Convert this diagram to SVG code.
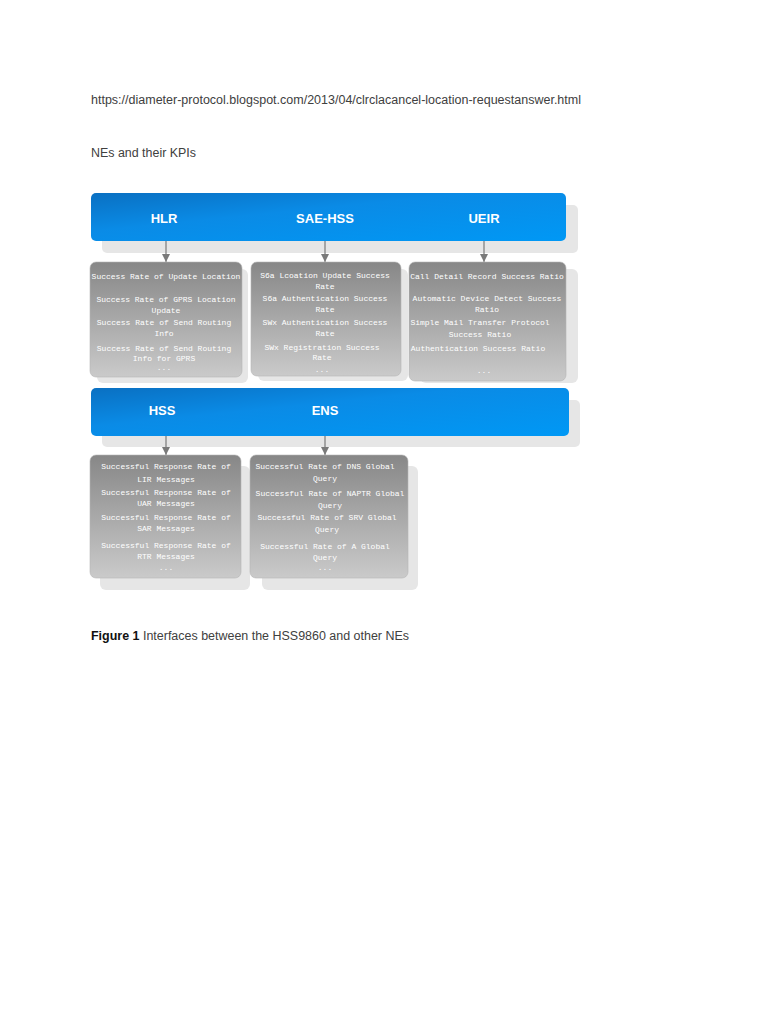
<svg xmlns="http://www.w3.org/2000/svg" width="768" height="1024" viewBox="0 0 768 1024">
<defs>
<linearGradient id="blue" x1="0" y1="0" x2="1" y2="1">
<stop offset="0" stop-color="#0a70c2"/>
<stop offset="0.4" stop-color="#0a8be6"/>
<stop offset="1" stop-color="#0098f5"/>
</linearGradient>
<linearGradient id="gray" x1="0" y1="0" x2="0" y2="1">
<stop offset="0" stop-color="#878787"/>
<stop offset="1" stop-color="#cacaca"/>
</linearGradient>
<marker id="arr" markerWidth="8" markerHeight="8" refX="8" refY="4" orient="auto" markerUnits="userSpaceOnUse" viewBox="0 0 8 8">
<path d="M0,0 L8,4 L0,8 Z" fill="#7a7a7a"/>
</marker>
<style>
.page{font-family:"Liberation Sans",Arial,sans-serif;font-size:12px;fill:#404040}
.hdr{font-family:"Liberation Sans",Arial,sans-serif;font-size:13px;font-weight:bold;fill:#fff;text-anchor:middle}
.kpi{font-family:"Liberation Mono","DejaVu Sans Mono",monospace;font-size:8px;fill:#fff;text-anchor:middle}
.shadow{fill:#e6e6e6}
.bar{fill:url(#blue)}
.box{fill:url(#gray);stroke:#b5b5b5;stroke-width:0.6}
.conn{stroke:#7a7a7a;stroke-width:1.2;fill:none}
</style>
</defs>
<rect width="768" height="1024" fill="#fff"/>
<text class="page" x="91" y="104" textLength="490" lengthAdjust="spacingAndGlyphs">https://diameter-protocol.blogspot.com/2013/04/clrclacancel-location-requestanswer.html</text>
<text class="page" x="91" y="157" textLength="105" lengthAdjust="spacingAndGlyphs">NEs and their KPIs</text>
<text class="page" x="91" y="640" textLength="318" lengthAdjust="spacingAndGlyphs"><tspan font-weight="bold" fill="#111">Figure 1</tspan> Interfaces between the HSS9860 and other NEs</text>

<g id="bar1">
<rect class="shadow" x="102" y="205" width="476" height="48" rx="5"/>
<rect class="bar" x="91" y="193" width="475" height="48" rx="5"/>
<text class="hdr" x="164" y="223">HLR</text>
<text class="hdr" x="325" y="223">SAE-HSS</text>
<text class="hdr" x="484" y="223">UEIR</text>
</g>

<g id="bar2">
<rect class="shadow" x="102" y="400" width="478" height="47" rx="5"/>
<rect class="bar" x="91" y="388" width="478" height="48" rx="5"/>
<text class="hdr" x="162" y="415">HSS</text>
<text class="hdr" x="325" y="415">ENS</text>
</g>

<g id="connectors">
<line class="conn" x1="166" y1="241" x2="166" y2="262" marker-end="url(#arr)"/>
<line class="conn" x1="325" y1="241" x2="325" y2="262" marker-end="url(#arr)"/>
<line class="conn" x1="484" y1="241" x2="484" y2="262" marker-end="url(#arr)"/>
<line class="conn" x1="166" y1="436" x2="166" y2="455" marker-end="url(#arr)"/>
<line class="conn" x1="325" y1="436" x2="325" y2="455" marker-end="url(#arr)"/>
</g>

<g id="hlr-kpi">
<rect class="shadow" x="97" y="269" width="151" height="114" rx="6"/>
<rect class="box" x="90" y="262" width="152" height="115" rx="6"/>
<text class="kpi" x="166" y="279">Success Rate of Update Location</text>
<text class="kpi" x="166" y="302">Success Rate of GPRS Location</text>
<text class="kpi" x="166" y="313">Update</text>
<text class="kpi" x="164" y="325">Success Rate of Send Routing</text>
<text class="kpi" x="164" y="336">Info</text>
<text class="kpi" x="164" y="351">Success Rate of Send Routing</text>
<text class="kpi" x="164" y="361">Info for GPRS</text>
<text class="kpi" x="164" y="370">...</text>
</g>

<g id="sae-hss-kpi">
<rect class="shadow" x="258" y="269" width="150" height="112" rx="6"/>
<rect class="box" x="251" y="262" width="150" height="114" rx="6"/>
<text class="kpi" x="325" y="278">S6a Lcoation Update Success</text>
<text class="kpi" x="325" y="289">Rate</text>
<text class="kpi" x="325" y="301">S6a Authentication Success</text>
<text class="kpi" x="325" y="312">Rate</text>
<text class="kpi" x="325" y="325">SWx Authentication Success</text>
<text class="kpi" x="325" y="336">Rate</text>
<text class="kpi" x="322" y="350">SWx Registration Success</text>
<text class="kpi" x="322" y="360">Rate</text>
<text class="kpi" x="322" y="372">...</text>
</g>

<g id="ueir-kpi">
<rect class="shadow" x="420" y="269" width="158" height="114" rx="6"/>
<rect class="box" x="409" y="262" width="157" height="119" rx="6"/>
<text class="kpi" x="487" y="279">Call Detail Record Success Ratio</text>
<text class="kpi" x="487" y="301">Automatic Device Detect Success</text>
<text class="kpi" x="487" y="312">Ratio</text>
<text class="kpi" x="480" y="325">Simple Mail Transfer Protocol</text>
<text class="kpi" x="480" y="337">Success Ratio</text>
<text class="kpi" x="478" y="351">Authentication Success Ratio</text>
<text class="kpi" x="484" y="373">...</text>
</g>

<g id="hss-kpi">
<rect class="shadow" x="100" y="466" width="150" height="124" rx="6"/>
<rect class="box" x="90" y="455" width="151" height="123" rx="6"/>
<text class="kpi" x="166" y="469">Successful Response Rate of</text>
<text class="kpi" x="166" y="482">LIR Messages</text>
<text class="kpi" x="166" y="495">Successful Response Rate of</text>
<text class="kpi" x="166" y="506">UAR Messages</text>
<text class="kpi" x="166" y="520">Successful Response Rate of</text>
<text class="kpi" x="166" y="531">SAR Messages</text>
<text class="kpi" x="166" y="548">Successful Response Rate of</text>
<text class="kpi" x="166" y="559">RTR Messages</text>
<text class="kpi" x="166" y="570">...</text>
</g>

<g id="ens-kpi">
<rect class="shadow" x="262" y="466" width="156" height="124" rx="6"/>
<rect class="box" x="250" y="455" width="158" height="123" rx="6"/>
<text class="kpi" x="325" y="469">Successful Rate of DNS Global</text>
<text class="kpi" x="325" y="481">Query</text>
<text class="kpi" x="330" y="496">Successful Rate of NAPTR Global</text>
<text class="kpi" x="330" y="508">Query</text>
<text class="kpi" x="327" y="520">Successful Rate of SRV Global</text>
<text class="kpi" x="327" y="532">Query</text>
<text class="kpi" x="325" y="549">Successful Rate of A Global</text>
<text class="kpi" x="325" y="560">Query</text>
<text class="kpi" x="325" y="570">...</text>
</g>
</svg>
